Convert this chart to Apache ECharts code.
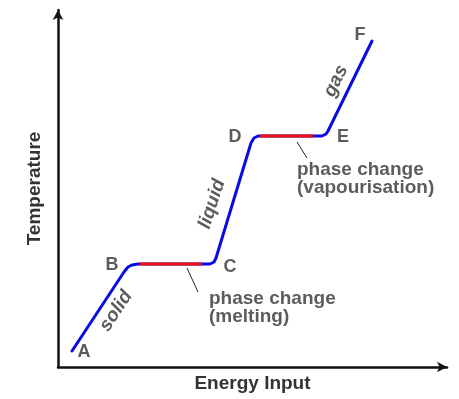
<!DOCTYPE html>
<html>
<head>
<meta charset="utf-8">
<script src="https://cdn.jsdelivr.net/npm/echarts@6/dist/echarts.min.js"></script>
<style>
html,body{margin:0;padding:0;background:#fff;}
#chart{width:459px;height:399px;}
</style>
</head>
<body>
<div id="chart"></div>
<script>
// Heating curve (energy input vs temperature), arbitrary units
const energy = [14, 66, 70, 74, 80, 145, 152, 156, 158, 193, 196, 200, 255, 264, 268, 270, 314];
const temperature = [16, 95, 100, 102, 103, 103, 103, 105, 109, 224, 229, 231, 231, 231, 233, 236, 326];
// phase-change plateaus (red)
const meltingEnergy = [82, 144];
const meltingTemp = [103, 103];
const vapourEnergy = [202, 255];
const vapourTemp = [231, 231];
// point letters
const pointLabels = ['A', 'B', 'C', 'D', 'E', 'F'];
const pointLabelEnergy = [26, 54, 172, 177, 285, 302];
const pointLabelTemp = [15, 102, 100, 230, 230, 332];
// state labels
const stateLabels = ['solid', 'liquid', 'gas'];
const stateEnergy = [58, 154, 278];
const stateTemp = [56, 163, 286];
const stateAngle = [57, 72, 64];
// phase change notes
const noteTexts = ['phase change\n(melting)', 'phase change\n(vapourisation)'];
const noteEnergy = [151, 239];
const noteTemp = [59, 188];
const leaderLines = [
  [[129, 99], [140, 75]],
  [[239, 225], [249, 209]]
];

const TXT = '#333333';
const FONT = 'Liberation Sans, Arial, sans-serif';

const chart = echarts.init(document.getElementById('chart'));
const zip = (a, b) => a.map((v, i) => [v, b[i]]);

chart.setOption({
  animation: false,
  backgroundColor: '#ffffff',
  grid: { left: 58, right: 12, top: 10, bottom: 32, containLabel: false, outerBoundsMode: 'none' },
  xAxis: {
    type: 'value', min: 0, max: 389,
    name: 'Energy Input', nameLocation: 'middle', nameGap: 7,
    nameTextStyle: { color: TXT, fontSize: 19, fontWeight: 'bold', fontFamily: FONT },
    axisLine: { show: true, lineStyle: { color: '#111', width: 2.5 }, symbol: ['none', 'arrow'], symbolSize: [8, 10] },
    axisTick: { show: false }, axisLabel: { show: false }, splitLine: { show: false }
  },
  yAxis: {
    type: 'value', min: 0, max: 357,
    name: 'Temperature', nameLocation: 'middle', nameGap: 14,
    nameTextStyle: { color: TXT, fontSize: 19, fontWeight: 'bold', fontFamily: FONT },
    axisLine: { show: true, lineStyle: { color: '#111', width: 2.5 }, symbol: ['none', 'arrow'], symbolSize: [8, 10] },
    axisTick: { show: false }, axisLabel: { show: false }, splitLine: { show: false }
  },
  series: [
    {
      type: 'line', data: zip(energy, temperature), showSymbol: false, symbol: 'none',
      lineStyle: { color: '#0a0ae6', width: 3, cap: 'round', join: 'round' }, z: 2
    },
    {
      type: 'line', data: zip(meltingEnergy, meltingTemp), symbol: 'none',
      lineStyle: { color: '#f01010', width: 3 }, z: 3
    },
    {
      type: 'line', data: zip(vapourEnergy, vapourTemp), symbol: 'none',
      lineStyle: { color: '#f01010', width: 3 }, z: 3
    },
    {
      type: 'scatter', symbolSize: 0, z: 5,
      data: pointLabels.map((t, i) => ({ value: [pointLabelEnergy[i], pointLabelTemp[i]], name: t })),
      label: { show: true, position: 'inside', formatter: p => p.name, color: TXT, fontSize: 18, fontWeight: 'bold', fontFamily: FONT }
    },
    {
      type: 'scatter', symbolSize: 0, z: 5,
      data: stateLabels.map((t, i) => ({
        value: [stateEnergy[i], stateTemp[i]], name: t,
        label: { rotate: stateAngle[i] }
      })),
      label: { show: true, position: 'inside', formatter: p => p.name, color: TXT, fontSize: 19, fontWeight: 'bold', fontStyle: 'italic', fontFamily: FONT }
    },
    {
      type: 'scatter', symbolSize: 0, z: 5,
      data: noteTexts.map((t, i) => ({ value: [noteEnergy[i], noteTemp[i]], name: t })),
      label: { show: true, position: 'right', distance: 0, align: 'left', verticalAlign: 'middle', lineHeight: 18,
        formatter: p => p.name, color: TXT, fontSize: 19, fontWeight: 'bold', fontFamily: FONT }
    },
    {
      type: 'lines', coordinateSystem: 'cartesian2d', z: 4,
      data: leaderLines.map(c => ({ coords: c })),
      lineStyle: { color: '#222', width: 1, opacity: 1 }
    }
  ]
});
</script>
</body>
</html>
